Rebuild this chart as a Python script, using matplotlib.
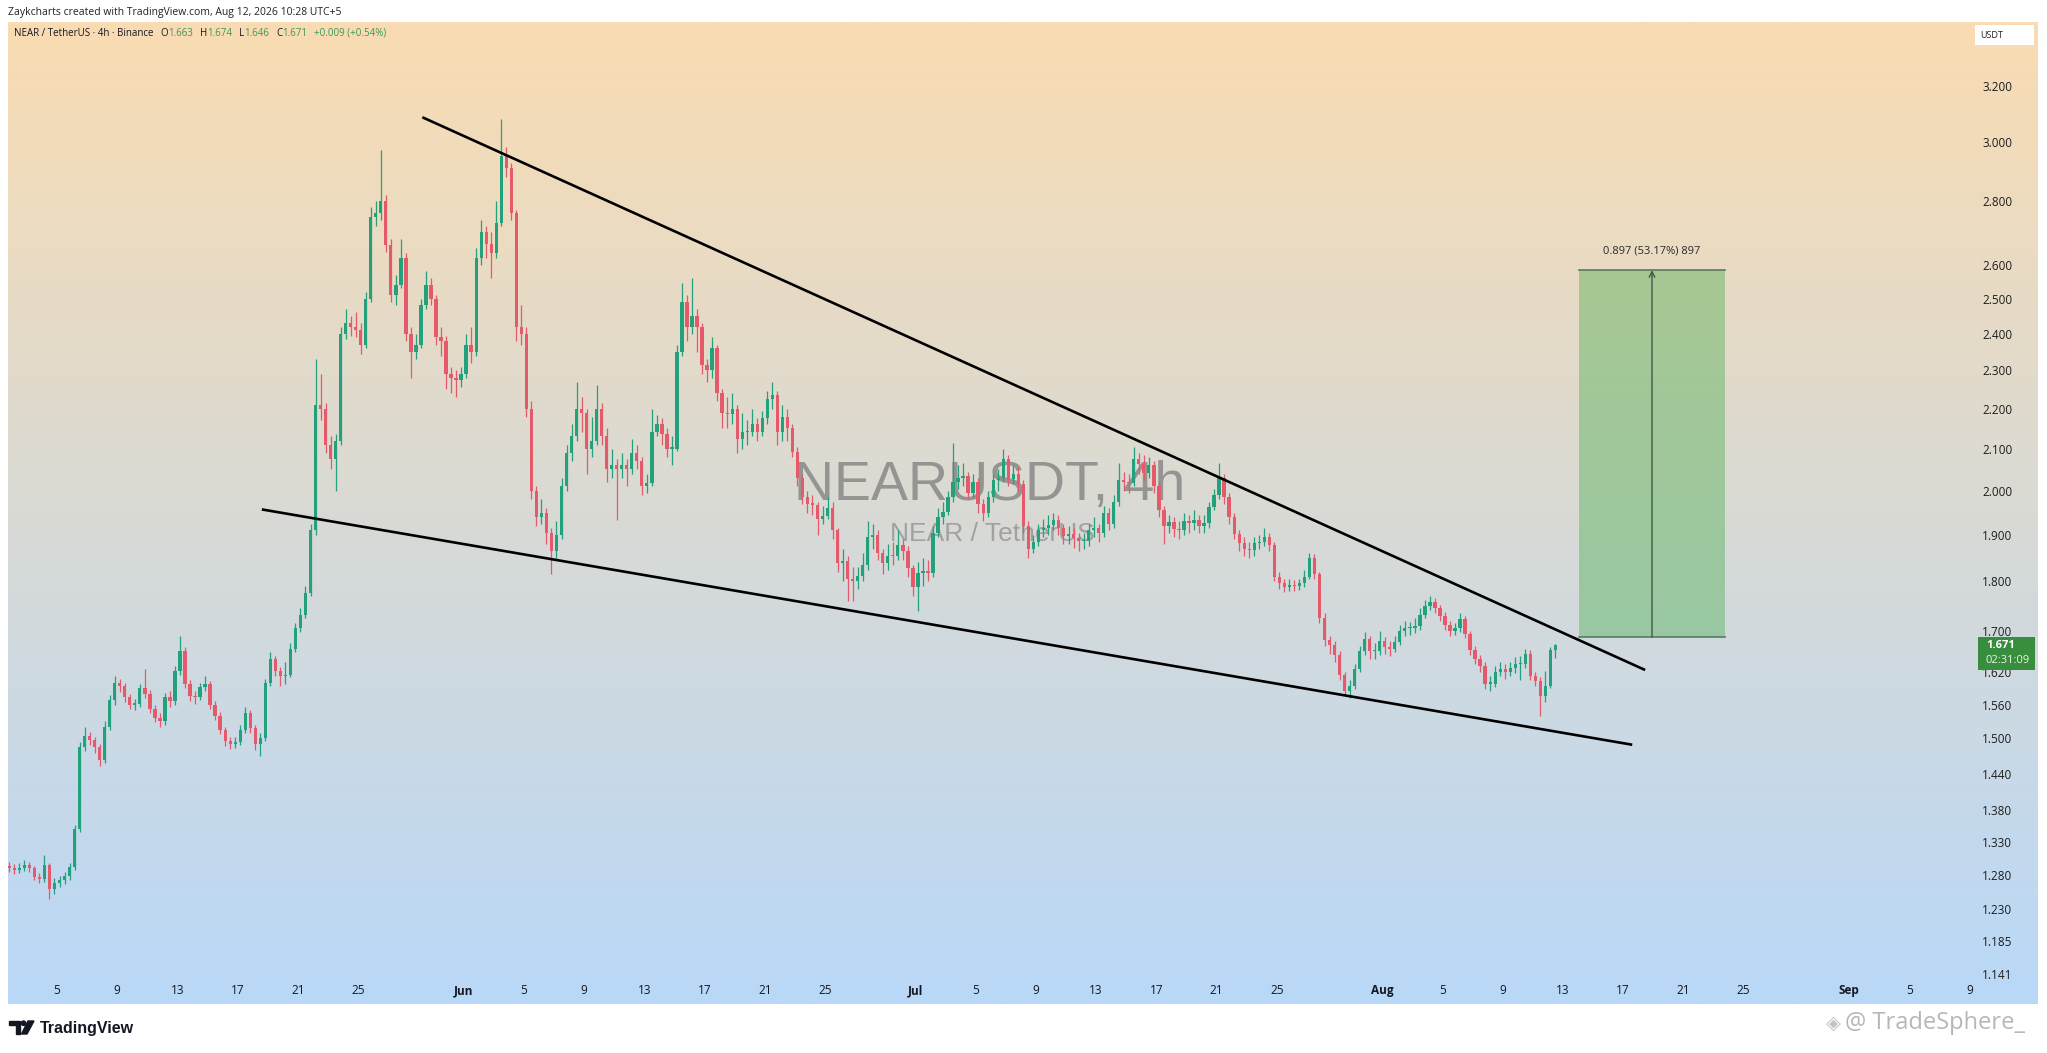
import numpy as np
import pandas as pd
import matplotlib
matplotlib.use("Agg")
from matplotlib import pyplot as plt
from matplotlib import dates as mdates
from matplotlib import ticker
from matplotlib.patches import Rectangle, Polygon, Circle

plt.rcParams["font.family"] = ["Open Sans", "DejaVu Sans"]

W, H = 2047, 1053

# NEAR/USDT, read off the 4h chart and grouped into 8h bars
# first bar opens May 1 16:00, last bar opens Aug 12 08:00
first_open = 1.292
closes = [
  1.290, 1.288, 1.290, 1.295, 1.290, 1.277, 1.274, 1.295, 1.260, 1.268,
  1.272, 1.278, 1.292, 1.350, 1.485, 1.505, 1.497, 1.485, 1.463, 1.520,
  1.568, 1.600, 1.594, 1.573, 1.560, 1.562, 1.590, 1.580, 1.552, 1.536,
  1.530, 1.574, 1.566, 1.623, 1.660, 1.598, 1.575, 1.573, 1.592, 1.598,
  1.560, 1.540, 1.515, 1.495, 1.490, 1.494, 1.515, 1.545, 1.518, 1.490,
  1.500, 1.600, 1.645, 1.623, 1.612, 1.615, 1.665, 1.705, 1.732, 1.775,
  1.910, 2.210, 2.200, 2.110, 2.075, 2.120, 2.400, 2.430, 2.420, 2.410,
  2.370, 2.500, 2.750, 2.760, 2.800, 2.660, 2.510, 2.540, 2.620, 2.400,
  2.350, 2.370, 2.480, 2.540, 2.500, 2.390, 2.380, 2.290, 2.280, 2.275,
  2.290, 2.370, 2.350, 2.620, 2.700, 2.665, 2.635, 2.730, 2.950, 2.910,
  2.760, 2.420, 2.400, 2.200, 2.000, 1.940, 1.950, 1.905, 1.865, 1.900,
  2.010, 2.090, 2.130, 2.200, 2.190, 2.100, 2.120, 2.200, 2.130, 2.050,
  2.060, 2.050, 2.060, 2.050, 2.090, 2.070, 2.012, 2.018, 2.140, 2.160,
  2.135, 2.100, 2.100, 2.350, 2.490, 2.420, 2.450, 2.420, 2.315, 2.300,
  2.360, 2.240, 2.190, 2.187, 2.200, 2.125, 2.140, 2.140, 2.160, 2.142,
  2.175, 2.225, 2.235, 2.140, 2.180, 2.150, 2.092, 2.030, 1.985, 1.970,
  1.968, 1.935, 1.942, 1.960, 1.910, 1.838, 1.843, 1.805, 1.800, 1.812,
  1.835, 1.895, 1.900, 1.860, 1.838, 1.855, 1.853, 1.878, 1.865, 1.828,
  1.789, 1.818, 1.820, 1.818, 1.905, 1.940, 1.952, 1.985, 2.020, 2.030,
  2.035, 1.995, 2.020, 1.970, 1.950, 1.985, 2.025, 2.030, 2.075, 2.027,
  2.040, 2.015, 1.920, 1.870, 1.885, 1.910, 1.915, 1.922, 1.933, 1.915,
  1.898, 1.902, 1.892, 1.886, 1.887, 1.910, 1.915, 1.905, 1.950, 1.925,
  1.975, 2.025, 2.020, 2.017, 2.075, 2.062, 2.042, 2.060, 2.010, 1.955,
  1.920, 1.928, 1.912, 1.910, 1.930, 1.926, 1.932, 1.920, 1.927, 1.963,
  1.990, 2.030, 1.985, 1.940, 1.903, 1.882, 1.870, 1.866, 1.882, 1.885,
  1.896, 1.878, 1.810, 1.796, 1.788, 1.793, 1.790, 1.796, 1.810, 1.850,
  1.815, 1.725, 1.682, 1.672, 1.652, 1.615, 1.585, 1.595, 1.626, 1.660,
  1.683, 1.660, 1.660, 1.680, 1.668, 1.665, 1.678, 1.700, 1.705, 1.706,
  1.710, 1.732, 1.750, 1.758, 1.745, 1.730, 1.712, 1.700, 1.706, 1.724,
  1.693, 1.662, 1.645, 1.632, 1.598, 1.598, 1.620, 1.626, 1.620, 1.627,
  1.635, 1.635, 1.655, 1.613, 1.604, 1.575, 1.595, 1.663, 1.671]
highs = [
  1.300, 1.296, 1.298, 1.302, 1.300, 1.294, 1.283, 1.310, 1.298, 1.276,
  1.279, 1.284, 1.298, 1.356, 1.494, 1.520, 1.512, 1.503, 1.490, 1.530,
  1.578, 1.612, 1.608, 1.600, 1.580, 1.571, 1.598, 1.625, 1.586, 1.560,
  1.545, 1.582, 1.584, 1.632, 1.690, 1.668, 1.605, 1.585, 1.600, 1.612,
  1.604, 1.566, 1.546, 1.520, 1.502, 1.503, 1.524, 1.556, 1.550, 1.524,
  1.510, 1.608, 1.658, 1.650, 1.630, 1.640, 1.675, 1.715, 1.745, 1.790,
  1.925, 2.330, 2.290, 2.215, 2.130, 2.135, 2.420, 2.470, 2.450, 2.460,
  2.430, 2.520, 2.780, 2.800, 2.970, 2.820, 2.680, 2.570, 2.680, 2.635,
  2.420, 2.400, 2.500, 2.580, 2.560, 2.510, 2.420, 2.395, 2.310, 2.300,
  2.310, 2.400, 2.420, 2.650, 2.740, 2.720, 2.700, 2.800, 3.080, 2.980,
  2.925, 2.770, 2.480, 2.420, 2.220, 2.010, 1.980, 1.960, 1.915, 1.930,
  2.030, 2.110, 2.160, 2.270, 2.230, 2.200, 2.180, 2.260, 2.215, 2.150,
  2.100, 2.075, 2.090, 2.075, 2.125, 2.110, 2.080, 2.040, 2.200, 2.185,
  2.175, 2.150, 2.130, 2.370, 2.545, 2.510, 2.560, 2.470, 2.430, 2.330,
  2.390, 2.370, 2.250, 2.230, 2.240, 2.210, 2.190, 2.170, 2.200, 2.175,
  2.195, 2.245, 2.270, 2.245, 2.210, 2.200, 2.160, 2.105, 2.040, 2.000,
  1.990, 1.975, 1.965, 1.985, 1.975, 1.915, 1.870, 1.855, 1.830, 1.830,
  1.860, 1.930, 1.925, 1.910, 1.870, 1.880, 1.885, 1.910, 1.890, 1.875,
  1.835, 1.840, 1.850, 1.845, 1.920, 1.960, 1.975, 2.000, 2.115, 2.060,
  2.065, 2.045, 2.040, 2.030, 1.980, 2.000, 2.040, 2.050, 2.100, 2.085,
  2.060, 2.055, 2.025, 1.930, 1.900, 1.925, 1.935, 1.945, 1.950, 1.945,
  1.925, 1.920, 1.915, 1.905, 1.905, 1.925, 1.940, 1.925, 1.965, 1.960,
  1.990, 2.065, 2.045, 2.040, 2.105, 2.090, 2.085, 2.080, 2.070, 2.020,
  1.965, 1.945, 1.940, 1.930, 1.950, 1.945, 1.955, 1.945, 1.945, 1.975,
  2.005, 2.065, 2.040, 1.995, 1.950, 1.910, 1.895, 1.885, 1.895, 1.900,
  1.915, 1.905, 1.885, 1.820, 1.805, 1.805, 1.802, 1.806, 1.825, 1.860,
  1.858, 1.820, 1.735, 1.690, 1.680, 1.660, 1.620, 1.605, 1.635, 1.670,
  1.698, 1.690, 1.675, 1.700, 1.688, 1.680, 1.690, 1.712, 1.720, 1.718,
  1.725, 1.745, 1.762, 1.770, 1.765, 1.752, 1.738, 1.720, 1.716, 1.735,
  1.730, 1.700, 1.670, 1.652, 1.640, 1.612, 1.632, 1.640, 1.635, 1.640,
  1.648, 1.650, 1.665, 1.662, 1.620, 1.610, 1.622, 1.668, 1.674]
lows = [
  1.284, 1.282, 1.283, 1.286, 1.284, 1.272, 1.268, 1.270, 1.245, 1.252,
  1.262, 1.266, 1.272, 1.288, 1.345, 1.478, 1.488, 1.474, 1.452, 1.458,
  1.514, 1.560, 1.583, 1.565, 1.552, 1.550, 1.556, 1.572, 1.545, 1.528,
  1.520, 1.524, 1.556, 1.560, 1.615, 1.590, 1.566, 1.562, 1.568, 1.585,
  1.553, 1.532, 1.508, 1.487, 1.482, 1.484, 1.489, 1.510, 1.510, 1.480,
  1.470, 1.495, 1.594, 1.612, 1.595, 1.598, 1.610, 1.658, 1.698, 1.725,
  1.770, 1.900, 2.170, 2.090, 2.050, 2.000, 2.110, 2.385, 2.395, 2.390,
  2.345, 2.360, 2.490, 2.720, 2.740, 2.640, 2.490, 2.480, 2.530, 2.380,
  2.280, 2.330, 2.360, 2.470, 2.480, 2.370, 2.340, 2.250, 2.240, 2.230,
  2.255, 2.280, 2.320, 2.340, 2.600, 2.620, 2.560, 2.620, 2.720, 2.880,
  2.740, 2.380, 2.370, 2.180, 1.980, 1.920, 1.925, 1.880, 1.816, 1.850,
  1.890, 2.000, 2.070, 2.120, 2.140, 2.040, 2.080, 2.110, 2.110, 2.020,
  2.030, 1.933, 2.030, 2.010, 2.040, 2.050, 1.990, 1.995, 2.010, 2.130,
  2.110, 2.080, 2.060, 2.095, 2.340, 2.380, 2.400, 2.350, 2.290, 2.270,
  2.280, 2.220, 2.150, 2.150, 2.160, 2.090, 2.100, 2.110, 2.130, 2.120,
  2.130, 2.160, 2.200, 2.110, 2.120, 2.120, 2.080, 2.010, 1.970, 1.950,
  1.945, 1.900, 1.925, 1.935, 1.890, 1.820, 1.800, 1.760, 1.760, 1.785,
  1.800, 1.825, 1.870, 1.845, 1.815, 1.825, 1.835, 1.845, 1.845, 1.810,
  1.770, 1.740, 1.790, 1.800, 1.810, 1.895, 1.925, 1.945, 1.975, 2.005,
  2.010, 1.980, 1.985, 1.950, 1.930, 1.940, 1.975, 2.000, 2.020, 2.010,
  2.015, 2.000, 1.905, 1.850, 1.860, 1.875, 1.895, 1.900, 1.910, 1.900,
  1.880, 1.880, 1.872, 1.865, 1.868, 1.875, 1.895, 1.885, 1.895, 1.910,
  1.915, 1.965, 2.000, 1.995, 2.010, 2.040, 2.025, 2.030, 1.995, 1.940,
  1.880, 1.905, 1.895, 1.890, 1.900, 1.905, 1.910, 1.905, 1.905, 1.915,
  1.955, 1.980, 1.970, 1.925, 1.890, 1.865, 1.855, 1.850, 1.855, 1.868,
  1.875, 1.865, 1.800, 1.785, 1.778, 1.780, 1.780, 1.783, 1.788, 1.805,
  1.805, 1.715, 1.670, 1.655, 1.640, 1.605, 1.575, 1.572, 1.588, 1.620,
  1.652, 1.645, 1.645, 1.652, 1.655, 1.650, 1.658, 1.672, 1.690, 1.692,
  1.695, 1.702, 1.725, 1.742, 1.735, 1.720, 1.702, 1.690, 1.692, 1.698,
  1.685, 1.652, 1.635, 1.620, 1.588, 1.585, 1.592, 1.612, 1.608, 1.612,
  1.618, 1.605, 1.628, 1.605, 1.595, 1.540, 1.565, 1.590, 1.646]

# drawn trendlines (time, price)
upper_line = [("2026-05-29 06:15", 3.086), ("2026-08-18 11:00", 1.624)]
lower_line = [("2026-05-18 14:25", 1.957), ("2026-08-17 14:25", 1.489)]

# price range tool
range_start, range_end = "2026-08-14 01:30", "2026-08-23 18:15"
range_low, range_high = 1.687, 2.584
range_label = "0.897 (53.17%) 897"

tick_dates = ["2026-05-05", "2026-05-09", "2026-05-13", "2026-05-17", "2026-05-21",
              "2026-05-25", "2026-06-01", "2026-06-05", "2026-06-09", "2026-06-13",
              "2026-06-17", "2026-06-21", "2026-06-25", "2026-07-01", "2026-07-05",
              "2026-07-09", "2026-07-13", "2026-07-17", "2026-07-21", "2026-07-25",
              "2026-08-01", "2026-08-05", "2026-08-09", "2026-08-13", "2026-08-17",
              "2026-08-21", "2026-08-25", "2026-09-01", "2026-09-05", "2026-09-09"]
tick_labels = ["5", "9", "13", "17", "21", "25", "Jun", "5", "9", "13", "17", "21",
               "25", "Jul", "5", "9", "13", "17", "21", "25", "Aug", "5", "9", "13",
               "17", "21", "25", "Sep", "5", "9"]
price_ticks = [3.2, 3.0, 2.8, 2.6, 2.5, 2.4, 2.3, 2.2, 2.1, 2.0, 1.9, 1.8, 1.7,
               1.62, 1.56, 1.5, 1.44, 1.38, 1.33, 1.28, 1.23, 1.185, 1.141]

UP = "#23a07c"
DOWN = "#e45a6a"
VALUE_GREEN = "#3a9a5c"


def dn(s):
  return mdates.date2num(pd.Timestamp(s).to_pydatetime())


fig = plt.figure(figsize=(W / 100, H / 100), dpi=100, facecolor="white")

# Background layer in screenshot pixels (y goes down)
bg = fig.add_axes([0, 0, 1, 1], zorder=0)
top_rgb = np.array([249, 220, 178]) / 255
bot_rgb = np.array([185, 216, 248]) / 255
t = np.linspace(0, 1, 256)[:, None]
grad = (1 - t) * top_rgb + t * bot_rgb
bg.imshow(grad[:, None, :], extent=(8, 2038, 1004, 22), aspect="auto",
          interpolation="bilinear")
bg.set_xlim(0, W)
bg.set_ylim(H, 0)
bg.axis("off")

bg.text(8, 12, "Zaykcharts created with TradingView.com, Aug 12, 2026 10:28 UTC+5",
        fontsize=7.5, color="#222222", va="center", ha="left")

# legend line: label pieces dark, values green
parts = [("NEAR / TetherUS · 4h · Binance", "#131722", 0), ("O", "#131722", 5),
         ("1.663", VALUE_GREEN, 0), ("H", "#131722", 5), ("1.674", VALUE_GREEN, 0),
         ("L", "#131722", 5), ("1.646", VALUE_GREEN, 0), ("C", "#131722", 5),
         ("1.671", VALUE_GREEN, 0), ("+0.009 (+0.54%)", VALUE_GREEN, 5)]
prev = bg.text(14, 33, parts[0][0], fontsize=7, color=parts[0][1], va="center")
for txt, col, gap in parts[1:]:
  prev = bg.annotate(txt, xy=(1, 0), xycoords=prev, xytext=(gap, 0),
                     textcoords="offset points", fontsize=7, color=col,
                     va="bottom", ha="left")

# symbol watermark
bg.text(990, 500, "NEARUSDT, 4h", fontsize=40, color="#7d7d7d", alpha=0.75,
        ha="center", va="baseline", family="Liberation Sans")
bg.text(992, 541, "NEAR / TetherUS", fontsize=19, color="#8a8a8a", alpha=0.7,
        ha="center", va="baseline", family="Liberation Sans")

# TradingView logo, bottom left
bg.add_patch(Polygon([(9, 1021), (20, 1021), (20, 1034), (15.5, 1034), (15.5, 1025),
                      (9, 1025)], closed=True, color="#131722"))
bg.add_patch(Circle((23.5, 1023.2), 2.2, color="#131722"))
bg.add_patch(Polygon([(28, 1021), (34, 1021), (27, 1034), (21.5, 1034)], closed=True,
                     color="#131722"))
bg.text(40, 1028, "TradingView", fontsize=11.5, fontweight="bold", color="#131722",
        va="center", ha="left", family="Liberation Sans")

# author mark, bottom right
bg.text(1833, 1023, "◈", fontsize=14, color="#c4c4c4", va="center", ha="center",
        family="DejaVu Sans")
bg.text(1845, 1023, "@ TradeSphere_", fontsize=17, color="#b7b7b7", va="center",
        ha="left")

# Price pane
ax = fig.add_axes([8 / W, (H - 980) / H, (1978 - 8) / W, (980 - 22) / H], zorder=1)
ax.patch.set_alpha(0)
ax.set_yscale("log")

times = pd.date_range("2026-05-01 16:00", periods=len(closes), freq="8h")
x = mdates.date2num(times.to_pydatetime()) + 1 / 6
c = np.array(closes)
o = np.r_[first_open, c[:-1]]
colors = np.where(c >= o, UP, DOWN)
ax.vlines(x, lows, highs, colors=colors, lw=0.9, zorder=3)
ax.bar(x, np.maximum(np.abs(c - o), 0.003), bottom=np.minimum(o, c), width=0.22,
       color=colors, linewidth=0, zorder=4)

for (t0, p0), (t1, p1) in [upper_line, lower_line]:
  ax.plot([dn(t0), dn(t1)], [p0, p1], color="black", lw=1.9, zorder=5,
          solid_capstyle="butt")

x0, x1 = dn(range_start), dn(range_end)
xm = (x0 + x1) / 2
ax.add_patch(Rectangle((x0, range_low), x1 - x0, range_high - range_low,
                       facecolor="#4caf50", alpha=0.42, edgecolor="none", zorder=2))
ax.plot([x0, x1], [range_high, range_high], color="#5b7b5e", lw=1.2, zorder=3)
ax.plot([x0, x1], [range_low, range_low], color="#5b7b5e", lw=1.2, zorder=3)
ax.annotate("", xy=(xm, range_high), xytext=(xm, range_low),
            arrowprops=dict(arrowstyle="->", color="#3e5a44", lw=1.0,
                            shrinkA=0, shrinkB=0), zorder=4)
ax.annotate(range_label, xy=(xm, range_high), xytext=(0, 14),
            textcoords="offset points", ha="center", va="center", fontsize=8,
            color="#2a2a2a")

ax.set_xticks([dn(d) for d in tick_dates])
ax.set_xticklabels(tick_labels)
for lbl in ax.get_xticklabels():
  if lbl.get_text() in ("Jun", "Jul", "Aug", "Sep"):
    lbl.set_fontweight("bold")
ax.tick_params(axis="x", length=0, pad=3, labelsize=8.5, labelcolor="#131722")

ax.yaxis.tick_right()
ax.set_yticks(price_ticks)
ax.yaxis.set_major_formatter(ticker.FuncFormatter(lambda v, _: f"{v:.3f}"))
ax.yaxis.set_minor_locator(ticker.NullLocator())
ax.tick_params(axis="y", length=0, pad=3, labelsize=8.5, labelcolor="#1e1e1e")

ax.set_xlim(dn("2026-05-01 17:54"), dn("2026-09-09 13:26"))
ax.set_ylim(1.133, 3.447)
for s in ax.spines.values():
  s.set_visible(False)

# Top layer: currency box and last price tag on the price scale
fg = fig.add_axes([0, 0, 1, 1], zorder=3)
fg.set_xlim(0, W)
fg.set_ylim(H, 0)
fg.axis("off")
fg.add_patch(Rectangle((1975, 25), 59, 20, facecolor="white", edgecolor="none"))
fg.text(1980, 35, "USDT", fontsize=6.5, color="#222222", va="center", ha="left")

last_y = H - ax.transData.transform((x[-1], closes[-1]))[1]
fg.add_patch(Rectangle((1978, last_y - 8.5), 57, 33, facecolor="#388e3c",
                       edgecolor="none"))
fg.text(1986, last_y, f"{closes[-1]:.3f}", fontsize=8, fontweight="bold",
        color="white", va="center", ha="left")
fg.text(1986, last_y + 15, "02:31:09", fontsize=8, color="#e8f5e9", va="center",
        ha="left")

fig.savefig("out.png", dpi=100, facecolor="white")
